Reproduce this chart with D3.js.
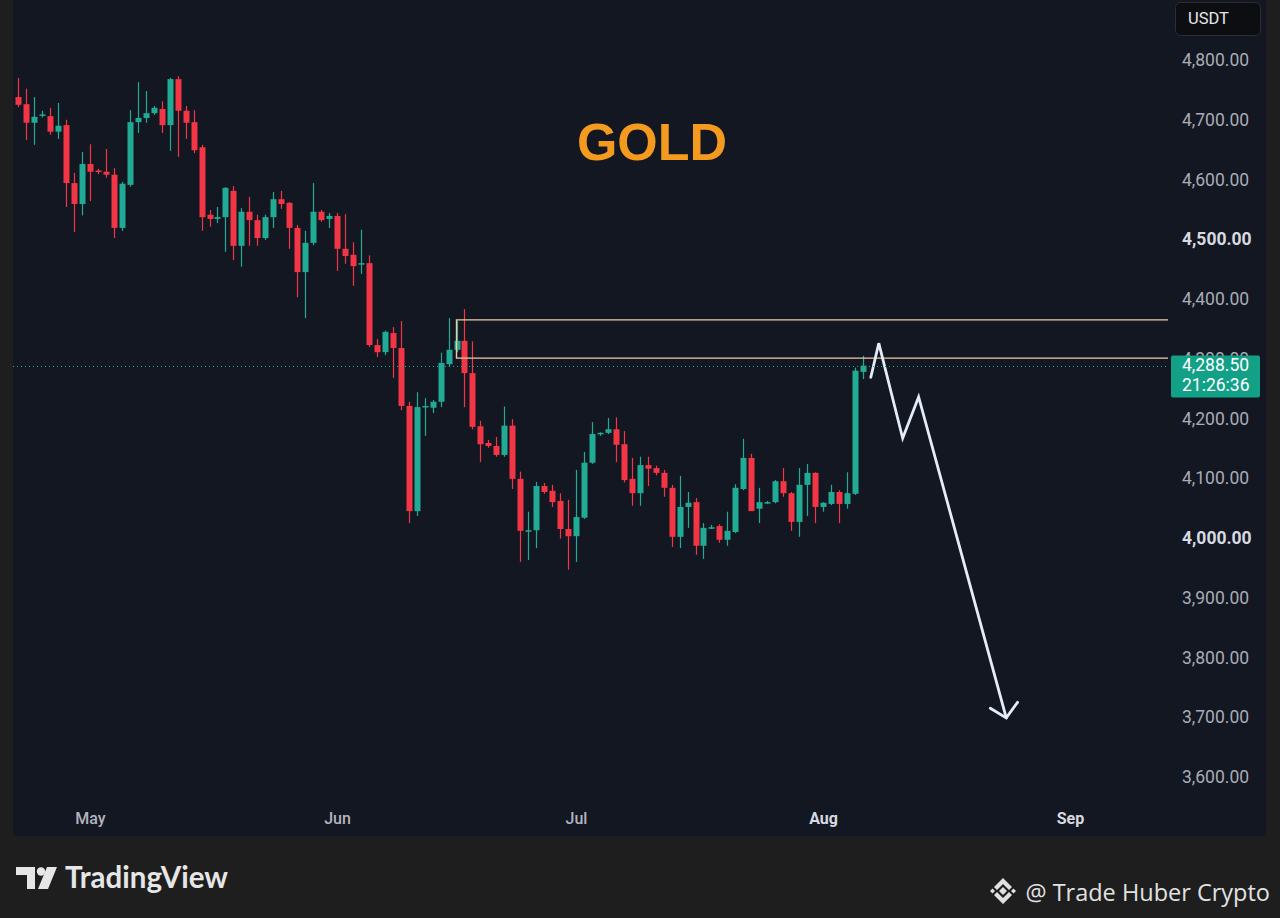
<!DOCTYPE html>
<html>
<head>
<meta charset="utf-8">
<script src="https://cdn.jsdelivr.net/npm/d3@7"></script>
<style>
  html, body { margin: 0; padding: 0; background: #1e1e1e; }
  svg { display: block; }
</style>
</head>
<body>
<svg id="chart"></svg>
<script>
// Daily candles, Apr 22 -> Aug 6 (one per day)
const firstDay = '2026-04-22';
const open = [
  4738, 4726, 4695, 4707, 4706, 4680, 4691, 4594, 4559, 4626,
  4615, 4613, 4608, 4519, 4591, 4696, 4703, 4711, 4718, 4691,
  4768, 4715, 4696, 4654, 4541, 4534, 4537, 4581, 4489, 4546,
  4532, 4502, 4537, 4567, 4561, 4519, 4445, 4494, 4546, 4534,
  4539, 4484, 4474, 4459, 4460, 4323, 4311, 4343, 4318, 4221,
  4045, 4219, 4218, 4228, 4291, 4315, 4330, 4276, 4187, 4159,
  4154, 4139, 4188, 4099, 4012, 4013, 4087, 4079, 4062, 4015,
  4003, 4034, 4126, 4174, 4176, 4182, 4157, 4099, 4075, 4122,
  4117, 4109, 4084, 4002, 4052, 4060, 3987, 4017, 4020, 3997,
  4010, 4082, 4134, 4049, 4060, 4060, 4095, 4075, 4027, 4089,
  4109, 4052, 4057, 4077, 4057, 4074, 4278
];
const high = [
  4770, 4752, 4738, 4715, 4720, 4728, 4700, 4611, 4646, 4659,
  4618, 4651, 4619, 4596, 4716, 4763, 4748, 4723, 4731, 4770,
  4773, 4723, 4716, 4658, 4549, 4554, 4587, 4589, 4552, 4571,
  4541, 4541, 4579, 4581, 4562, 4524, 4514, 4594, 4549, 4544,
  4544, 4542, 4495, 4516, 4473, 4333, 4347, 4353, 4363, 4228,
  4244, 4234, 4231, 4310, 4368, 4363, 4383, 4329, 4196, 4164,
  4169, 4220, 4199, 4111, 4044, 4094, 4092, 4089, 4075, 4064,
  4114, 4144, 4194, 4177, 4201, 4202, 4179, 4134, 4136, 4136,
  4121, 4114, 4089, 4104, 4077, 4067, 4025, 4022, 4023, 4044,
  4090, 4166, 4141, 4084, 4062, 4097, 4117, 4077, 4117, 4124,
  4110, 4060, 4089, 4080, 4110, 4285, 4305
];
const low = [
  4721, 4666, 4658, 4704, 4675, 4668, 4554, 4512, 4540, 4564,
  4609, 4603, 4502, 4514, 4588, 4678, 4695, 4708, 4678, 4648,
  4638, 4668, 4644, 4514, 4521, 4527, 4479, 4465, 4454, 4489,
  4489, 4499, 4519, 4551, 4484, 4403, 4368, 4490, 4529, 4519,
  4447, 4459, 4422, 4442, 4320, 4303, 4306, 4268, 4214, 4025,
  4037, 4171, 4209, 4219, 4286, 4311, 4219, 4182, 4127, 4151,
  4136, 4136, 4082, 3960, 3963, 3983, 4074, 4052, 3999, 3947,
  3960, 4032, 4124, 4171, 4174, 4127, 4093, 4054, 4054, 4087,
  4105, 4069, 3985, 3983, 4017, 3972, 3965, 4015, 3992, 3987,
  4008, 4080, 4049, 4025, 4057, 4058, 4069, 4012, 4002, 4037,
  4025, 4044, 4055, 4025, 4049, 4072, 4266
];
const close = [
  4725, 4695, 4705, 4709, 4680, 4690, 4594, 4559, 4626, 4613,
  4613, 4608, 4519, 4593, 4696, 4703, 4711, 4720, 4691, 4768,
  4715, 4695, 4649, 4537, 4534, 4537, 4586, 4489, 4546, 4532,
  4502, 4537, 4567, 4559, 4519, 4445, 4494, 4546, 4532, 4539,
  4484, 4472, 4455, 4460, 4323, 4311, 4345, 4318, 4221, 4045,
  4219, 4221, 4228, 4293, 4315, 4330, 4276, 4186, 4157, 4154,
  4139, 4188, 4099, 4012, 4013, 4087, 4077, 4060, 4015, 4003,
  4035, 4126, 4174, 4176, 4182, 4156, 4097, 4075, 4122, 4116,
  4109, 4084, 4002, 4052, 4059, 3987, 4017, 4018, 3997, 4012,
  4084, 4134, 4045, 4060, 4060, 4095, 4075, 4027, 4089, 4109,
  4052, 4059, 4077, 4057, 4075, 4280, 4288.5
];

const priceTicks = [3600, 3700, 3800, 3900, 4000, 4100, 4200, 4300, 4400, 4500, 4600, 4700, 4800];
const boldPrices = [4000, 4500];
const monthTicks = ['2026-05-01', '2026-06-01', '2026-07-01', '2026-08-01', '2026-09-01'];
const boldMonths = ['Aug', 'Sep'];

// resistance zone drawn on the chart
const zoneStart = '2026-06-16';
const zoneTop = 4365;
const zoneBottom = 4301;

// hand drawn projection arrow [date, price]
const arrowPath = [
  ['2026-08-07T00:00Z', 4269], ['2026-08-08T00:00Z', 4326], ['2026-08-11T00:00Z', 4167],
  ['2026-08-13T00:00Z', 4236], ['2026-08-24T00:00Z', 3699]
];
const arrowHead = [
  ['2026-08-22T00:00Z', 3715], ['2026-08-24T00:00Z', 3699], ['2026-08-25T10:00Z', 3725]
];

const countdown = '21:26:36';

const width = 1280;
const height = 918;
const panel = { left: 13, top: 0, right: 1266, bottom: 836 };
const plot = { left: 13, top: 0, right: 1168, bottom: 800 };

const up = '#22ab94';
const down = '#f23645';
const axisFont = 'Roboto, "Noto Sans", sans-serif';

const days = d3.utcDay.range(new Date(firstDay), d3.utcDay.offset(new Date(firstDay), close.length));
const candles = days.map((d, i) => ({ date: d, o: open[i], h: high[i], l: low[i], c: close[i] }));

const svg = d3.select('#chart')
  .attr('width', width)
  .attr('height', height);

svg.append('rect').attr('width', width).attr('height', height).attr('fill', '#1e1e1e');
svg.append('rect')
  .attr('x', panel.left).attr('y', panel.top)
  .attr('width', panel.right - panel.left).attr('height', panel.bottom - panel.top)
  .attr('fill', '#131722');

const x = d3.scaleUtc()
  .domain([new Date(monthTicks[0]), new Date(monthTicks[4])])
  .range([90, 1070]);

const y = d3.scaleLinear()
  .domain([3600, 4800])
  .range([777, 60]);

svg.append('clipPath').attr('id', 'plot-clip')
  .append('rect')
  .attr('x', plot.left).attr('y', plot.top)
  .attr('width', plot.right - plot.left).attr('height', plot.bottom - plot.top);

const g = svg.append('g').attr('clip-path', 'url(#plot-clip)');

// wicks
g.selectAll('.wick')
  .data(candles)
  .enter()
  .append('line')
  .attr('class', 'wick')
  .attr('x1', d => Math.round(x(d.date)) + 0.5)
  .attr('x2', d => Math.round(x(d.date)) + 0.5)
  .attr('y1', d => y(d.h))
  .attr('y2', d => y(d.l))
  .attr('stroke', d => d.c >= d.o ? up : down)
  .attr('stroke-width', 1.2);

// bodies
const bodyW = 6;
g.selectAll('.body')
  .data(candles)
  .enter()
  .append('rect')
  .attr('class', 'body')
  .attr('x', d => Math.round(x(d.date)) + 0.5 - bodyW / 2)
  .attr('y', d => y(Math.max(d.o, d.c)))
  .attr('width', bodyW)
  .attr('height', d => Math.max(1.5, Math.abs(y(d.o) - y(d.c))))
  .attr('fill', d => d.c >= d.o ? up : down);

// resistance zone
const zx = x(new Date(zoneStart));
g.append('path')
  .attr('d', `M${plot.right + 5},${y(zoneTop)}H${zx}V${y(zoneBottom)}H${plot.right + 5}`)
  .attr('fill', 'none')
  .attr('stroke', '#f0cba2')
  .attr('stroke-width', 1.4);

// last price dotted line
const last = candles[candles.length - 1];
svg.append('line')
  .attr('x1', plot.left).attr('x2', plot.right)
  .attr('y1', Math.round(y(last.c)) + 0.5).attr('y2', Math.round(y(last.c)) + 0.5)
  .attr('stroke', up)
  .attr('stroke-width', 1)
  .attr('stroke-dasharray', '1,3');

// arrow
const line = d3.line()
  .x(d => x(new Date(d[0])))
  .y(d => y(d[1]));

[arrowPath, arrowHead].forEach(pts => {
  g.append('path')
    .attr('d', line(pts))
    .attr('fill', 'none')
    .attr('stroke', '#e4ecfa')
    .attr('stroke-width', 2.8)
    .attr('stroke-linejoin', 'miter')
    .attr('stroke-linecap', 'round');
});

// title
svg.append('text')
  .attr('x', 652)
  .attr('y', 160)
  .attr('text-anchor', 'middle')
  .attr('fill', '#f39a1f')
  .attr('font-family', '"Liberation Sans", Arial, sans-serif')
  .attr('font-weight', 700)
  .attr('font-size', 52)
  .text('GOLD');

// price axis (the 4,300 label sits under the live price box, as in the terminal)
const py = y(last.c);
svg.append('clipPath').attr('id', 'axis-clip')
  .append('rect')
  .attr('x', 1170).attr('y', 40)
  .attr('width', 100).attr('height', 760);
const yAxis = svg.append('g')
  .attr('clip-path', 'url(#axis-clip)')
  .append('g')
  .attr('transform', 'translate(1182,0)')
  .call(d3.axisRight(y)
    .tickValues(priceTicks)
    .tickSize(0)
    .tickPadding(0)
    .tickFormat(d3.format(',.2f')));
yAxis.select('.domain').remove();
yAxis.selectAll('text')
  .attr('font-family', axisFont)
  .attr('font-size', 17.5)
  .attr('fill', d => boldPrices.includes(d) ? '#d8dae0' : '#a9acb5')
  .attr('font-weight', d => boldPrices.includes(d) ? 700 : 400);

// time axis
const xAxis = svg.append('g')
  .attr('transform', 'translate(0,813)')
  .call(d3.axisBottom(x)
    .tickValues(monthTicks.map(d => new Date(d)))
    .tickSize(0)
    .tickPadding(0)
    .tickFormat(d3.utcFormat('%b')));
xAxis.select('.domain').remove();
xAxis.selectAll('text')
  .attr('font-family', axisFont)
  .attr('font-size', 16)
  .attr('fill', d => boldMonths.includes(d3.utcFormat('%b')(d)) ? '#d8dae0' : '#b2b5be')
  .attr('font-weight', d => boldMonths.includes(d3.utcFormat('%b')(d)) ? 700 : 500);

// current price label
svg.append('rect')
  .attr('x', 1171).attr('y', py - 10)
  .attr('width', 89).attr('height', 42)
  .attr('rx', 2)
  .attr('fill', '#12a087');
svg.append('text')
  .attr('x', 1182).attr('y', py + 5)
  .attr('font-family', axisFont).attr('font-size', 17.5)
  .attr('fill', '#ffffff')
  .text(d3.format(',.2f')(last.c));
svg.append('text')
  .attr('x', 1182).attr('y', py + 25)
  .attr('font-family', axisFont).attr('font-size', 17.5)
  .attr('fill', '#ffffff')
  .text(countdown);

// currency box
svg.append('rect')
  .attr('x', 1175.5).attr('y', 2.5)
  .attr('width', 85).attr('height', 33)
  .attr('rx', 5)
  .attr('fill', '#0d0e11')
  .attr('stroke', '#2c2e34');
svg.append('text')
  .attr('x', 1188).attr('y', 24)
  .attr('font-family', axisFont).attr('font-size', 16.5)
  .attr('fill', '#e8e8ea')
  .text('USDT');

// TradingView logo
const logo = svg.append('g').attr('fill', '#e6e6e6');
logo.append('path').attr('d', 'M16,867H35V889H27V875H16Z');
logo.append('circle').attr('cx', 41).attr('cy', 871.5).attr('r', 4.2);
logo.append('path').attr('d', 'M47,867H57L48,889H38Z');
svg.append('text')
  .attr('x', 65).attr('y', 888)
  .attr('font-family', 'Lato, Inter, sans-serif')
  .attr('font-weight', 700)
  .attr('font-size', 29.5)
  .attr('fill', '#e6e6e6')
  .text('TradingView');

// watermark
const bn = svg.append('g').attr('fill', '#e0e0e0').attr('transform', 'translate(1003,891)');
bn.append('path').attr('d', 'M0,-4L4,0L0,4L-4,0Z');
bn.append('path').attr('d', 'M-9,-4L0,-13L9,-4L6,-1L0,-7L-6,-1Z');
bn.append('path').attr('d', 'M-9,4L0,13L9,4L6,1L0,7L-6,1Z');
bn.append('path').attr('d', 'M-13,0L-10.5,-2.5L-8,0L-10.5,2.5Z');
bn.append('path').attr('d', 'M13,0L10.5,-2.5L8,0L10.5,2.5Z');
svg.append('text')
  .attr('x', 1270).attr('y', 901)
  .attr('text-anchor', 'end')
  .attr('font-family', '"Open Sans", "Noto Sans", sans-serif')
  .attr('font-size', 23.5)
  .attr('fill', '#e2e2e2')
  .text('@ Trade Huber Crypto');
</script>
</body>
</html>
